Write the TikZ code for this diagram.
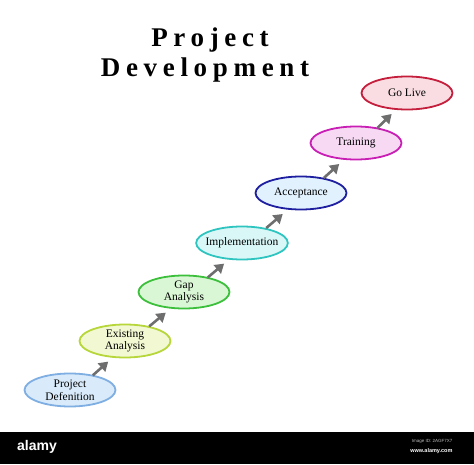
\documentclass[tikz,border=0pt]{standalone}
\usepackage{fontspec}
\setmainfont{Liberation Serif}
\setsansfont{Liberation Sans}
\usetikzlibrary{shapes.geometric, arrows.meta, calc}

% outline and fill of every stage
\definecolor{pdBorder}{HTML}{7FAEE2}
\definecolor{pdFill}{HTML}{D9EBFA}
\definecolor{eaBorder}{HTML}{B6D63A}
\definecolor{eaFill}{HTML}{F1F8D2}
\definecolor{gaBorder}{HTML}{3CC03C}
\definecolor{gaFill}{HTML}{D9F7D4}
\definecolor{imBorder}{HTML}{2EC4C0}
\definecolor{imFill}{HTML}{D9F7F7}
\definecolor{acBorder}{HTML}{1E1EA0}
\definecolor{acFill}{HTML}{E1F1FE}
\definecolor{trBorder}{HTML}{C81EB4}
\definecolor{trFill}{HTML}{F7D9F4}
\definecolor{glBorder}{HTML}{C41E3C}
\definecolor{glFill}{HTML}{F9DDE2}
\definecolor{stepGray}{HTML}{6E6E6E}

\begin{document}
\begin{tikzpicture}[x=1pt, y=1pt,
  stage/.style={ellipse, line width=1.8pt, minimum width=91pt, minimum height=33pt,
    inner xsep=-4pt, inner ysep=-2pt, align=center, font=\fontsize{11.5}{12.5}\selectfont},
  steparrow/.style={line width=2.6pt, draw=stepGray,
    -{Triangle[length=9pt, width=11pt]}},
  headline/.style={anchor=base, font=\fontsize{27}{30}\bfseries\addfontfeature{LetterSpace=21}}]
  \useasboundingbox (0,0) rectangle (474,464);

  % Title in two lines
  \node[headline] (title1) at (210,417) {Project};
  \node[headline] (title2) at (205,387) {Development};

  % The seven stages, from bottom left to top right
  \foreach \x/\y/\bd/\bg/\txt [count=\i] in {
      70/74/pdBorder/pdFill/{Project\\Defenition},
      125/123/eaBorder/eaFill/{Existing\\Analysis},
      184/172/gaBorder/gaFill/{Gap\\Analysis},
      242/221/imBorder/imFill/{Implementation},
      301/271/acBorder/acFill/{Acceptance},
      356/321/trBorder/trFill/{Training},
      407/371/glBorder/glFill/{Go Live}} {
    \node[stage, draw=\bd, fill=\bg] (s\i) at (\x,\y) {\txt};
  }

  % Arrows from each stage up to the next one
  \foreach \a/\b in {1/2, 2/3, 3/4, 4/5, 5/6, 6/7} {
    \draw[steparrow] ($(s\a)!0.36!(s\b) + (3,-3)$) -- ($(s\a)!0.64!(s\b) + (3,-3)$);
  }

  % Black strip along the bottom
  \fill[black] (0,0) rectangle (474,32);
  \node[white, font=\sffamily\bfseries\fontsize{14}{14}\selectfont] (mark) at (37,17) {alamy};
  \node[white!75!black, anchor=east, font=\sffamily\fontsize{4.5}{5}\selectfont] (imgid) at (456,23) {Image ID: 2AGF7X7};
  \node[white, anchor=east, font=\sffamily\bfseries\fontsize{5.5}{6}\selectfont] (site) at (456,13) {www.alamy.com};
\end{tikzpicture}
\end{document}
